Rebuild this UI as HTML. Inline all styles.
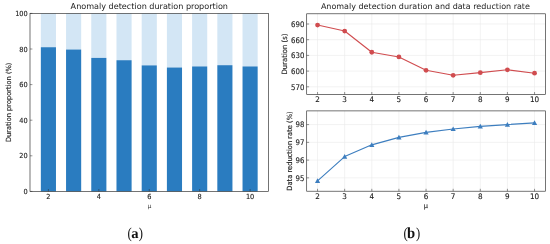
<!DOCTYPE html>
<html lang="en"><head><meta charset="utf-8"><title>Anomaly detection duration figure</title>
<style>
html,body{margin:0;padding:0;background:#fff;}
svg{display:block;}
text{font-family:"DejaVu Sans","Liberation Sans",sans-serif;fill:#1c1c1c;text-rendering:geometricPrecision;}
text.tk{stroke:#1c1c1c;stroke-width:0.12px;}
.cap text{font-family:"Liberation Serif","DejaVu Serif",serif;fill:#111;}
</style>
</head><body>
<svg width="550" height="244" viewBox="0 0 550 244">
<rect width="550" height="244" fill="#fff"/>
<g id="panel-a">
<rect x="40.84" y="13.40" width="15.13" height="33.82" fill="#d3e6f5"/>
<rect x="40.84" y="47.22" width="15.13" height="144.18" fill="#2a7cc0"/>
<rect x="66.05" y="13.40" width="15.13" height="36.13" fill="#d3e6f5"/>
<rect x="66.05" y="49.53" width="15.13" height="141.87" fill="#2a7cc0"/>
<rect x="91.26" y="13.40" width="15.13" height="44.50" fill="#d3e6f5"/>
<rect x="91.26" y="57.90" width="15.13" height="133.50" fill="#2a7cc0"/>
<rect x="116.48" y="13.40" width="15.13" height="46.81" fill="#d3e6f5"/>
<rect x="116.48" y="60.21" width="15.13" height="131.19" fill="#2a7cc0"/>
<rect x="141.69" y="13.40" width="15.13" height="51.98" fill="#d3e6f5"/>
<rect x="141.69" y="65.38" width="15.13" height="126.02" fill="#2a7cc0"/>
<rect x="166.90" y="13.40" width="15.13" height="54.11" fill="#d3e6f5"/>
<rect x="166.90" y="67.51" width="15.13" height="123.89" fill="#2a7cc0"/>
<rect x="192.11" y="13.40" width="15.13" height="53.04" fill="#d3e6f5"/>
<rect x="192.11" y="66.44" width="15.13" height="124.96" fill="#2a7cc0"/>
<rect x="217.32" y="13.40" width="15.13" height="51.80" fill="#d3e6f5"/>
<rect x="217.32" y="65.20" width="15.13" height="126.20" fill="#2a7cc0"/>
<rect x="242.53" y="13.40" width="15.13" height="53.04" fill="#d3e6f5"/>
<rect x="242.53" y="66.44" width="15.13" height="124.96" fill="#2a7cc0"/>
<rect x="30.00" y="13.40" width="238.50" height="178.00" fill="none" stroke="#2a2a2a" stroke-width="0.65"/>
<line x1="30.00" x2="32.40" y1="191.40" y2="191.40" stroke="#2a2a2a" stroke-width="0.5"/>
<text class="tk" transform="translate(27.70,193.95) scale(0.94,1)" font-size="7.0" text-anchor="end">0</text>
<line x1="30.00" x2="32.40" y1="155.80" y2="155.80" stroke="#2a2a2a" stroke-width="0.5"/>
<text class="tk" transform="translate(27.70,158.35) scale(0.94,1)" font-size="7.0" text-anchor="end">20</text>
<line x1="30.00" x2="32.40" y1="120.20" y2="120.20" stroke="#2a2a2a" stroke-width="0.5"/>
<text class="tk" transform="translate(27.70,122.75) scale(0.94,1)" font-size="7.0" text-anchor="end">40</text>
<line x1="30.00" x2="32.40" y1="84.60" y2="84.60" stroke="#2a2a2a" stroke-width="0.5"/>
<text class="tk" transform="translate(27.70,87.15) scale(0.94,1)" font-size="7.0" text-anchor="end">60</text>
<line x1="30.00" x2="32.40" y1="49.00" y2="49.00" stroke="#2a2a2a" stroke-width="0.5"/>
<text class="tk" transform="translate(27.70,51.55) scale(0.94,1)" font-size="7.0" text-anchor="end">80</text>
<line x1="30.00" x2="32.40" y1="13.40" y2="13.40" stroke="#2a2a2a" stroke-width="0.5"/>
<text class="tk" transform="translate(27.70,15.95) scale(0.94,1)" font-size="7.0" text-anchor="end">100</text>
<line x1="48.40" x2="48.40" y1="191.40" y2="189.00" stroke="#2a2a2a" stroke-width="0.5"/>
<text class="tk" transform="translate(48.40,199.45) scale(0.94,1)" font-size="7.0" text-anchor="middle">2</text>
<line x1="98.83" x2="98.83" y1="191.40" y2="189.00" stroke="#2a2a2a" stroke-width="0.5"/>
<text class="tk" transform="translate(98.83,199.45) scale(0.94,1)" font-size="7.0" text-anchor="middle">4</text>
<line x1="149.25" x2="149.25" y1="191.40" y2="189.00" stroke="#2a2a2a" stroke-width="0.5"/>
<text class="tk" transform="translate(149.25,199.45) scale(0.94,1)" font-size="7.0" text-anchor="middle">6</text>
<line x1="199.67" x2="199.67" y1="191.40" y2="189.00" stroke="#2a2a2a" stroke-width="0.5"/>
<text class="tk" transform="translate(199.67,199.45) scale(0.94,1)" font-size="7.0" text-anchor="middle">8</text>
<line x1="250.10" x2="250.10" y1="191.40" y2="189.00" stroke="#2a2a2a" stroke-width="0.5"/>
<text class="tk" transform="translate(250.10,199.45) scale(0.94,1)" font-size="7.0" text-anchor="middle">10</text>
<text x="149.4" y="208.3" font-size="6.0" text-anchor="middle" style="fill:#3a3a3a">μ</text>
<text class="tk" transform="translate(10.90,102.30) rotate(-90) scale(0.94,1)" font-size="7.1" text-anchor="middle">Duration proportion (%)</text>
<text x="149.3" y="9.2" font-size="8.08" text-anchor="middle">Anomaly detection duration proportion</text>
</g>
<g id="panel-b-top">
<line x1="317.55" x2="317.55" y1="13.8" y2="94.4" stroke="#eaeaea" stroke-width="0.6"/>
<line x1="344.67" x2="344.67" y1="13.8" y2="94.4" stroke="#eaeaea" stroke-width="0.6"/>
<line x1="371.80" x2="371.80" y1="13.8" y2="94.4" stroke="#eaeaea" stroke-width="0.6"/>
<line x1="398.92" x2="398.92" y1="13.8" y2="94.4" stroke="#eaeaea" stroke-width="0.6"/>
<line x1="426.05" x2="426.05" y1="13.8" y2="94.4" stroke="#eaeaea" stroke-width="0.6"/>
<line x1="453.17" x2="453.17" y1="13.8" y2="94.4" stroke="#eaeaea" stroke-width="0.6"/>
<line x1="480.30" x2="480.30" y1="13.8" y2="94.4" stroke="#eaeaea" stroke-width="0.6"/>
<line x1="507.42" x2="507.42" y1="13.8" y2="94.4" stroke="#eaeaea" stroke-width="0.6"/>
<line x1="534.55" x2="534.55" y1="13.8" y2="94.4" stroke="#eaeaea" stroke-width="0.6"/>
<line x1="306.7" x2="545.4" y1="86.80" y2="86.80" stroke="#eaeaea" stroke-width="0.6"/>
<line x1="306.7" x2="545.4" y1="71.10" y2="71.10" stroke="#eaeaea" stroke-width="0.6"/>
<line x1="306.7" x2="545.4" y1="55.40" y2="55.40" stroke="#eaeaea" stroke-width="0.6"/>
<line x1="306.7" x2="545.4" y1="39.70" y2="39.70" stroke="#eaeaea" stroke-width="0.6"/>
<line x1="306.7" x2="545.4" y1="24.00" y2="24.00" stroke="#eaeaea" stroke-width="0.6"/>
<polyline points="317.55,25.05 344.67,31.06 371.80,52.26 398.92,56.97 426.05,70.31 453.17,75.29 480.30,72.67 507.42,69.79 534.55,73.19" fill="none" stroke="#d04c4f" stroke-width="1.12" stroke-linejoin="round"/>
<circle cx="317.55" cy="25.05" r="2.4" fill="#d04c4f"/>
<circle cx="344.67" cy="31.06" r="2.4" fill="#d04c4f"/>
<circle cx="371.80" cy="52.26" r="2.4" fill="#d04c4f"/>
<circle cx="398.92" cy="56.97" r="2.4" fill="#d04c4f"/>
<circle cx="426.05" cy="70.31" r="2.4" fill="#d04c4f"/>
<circle cx="453.17" cy="75.29" r="2.4" fill="#d04c4f"/>
<circle cx="480.30" cy="72.67" r="2.4" fill="#d04c4f"/>
<circle cx="507.42" cy="69.79" r="2.4" fill="#d04c4f"/>
<circle cx="534.55" cy="73.19" r="2.4" fill="#d04c4f"/>
<rect x="306.7" y="13.8" width="238.70" height="80.60" fill="none" stroke="#2a2a2a" stroke-width="0.65"/>
<line x1="306.7" x2="309.09999999999997" y1="86.80" y2="86.80" stroke="#2a2a2a" stroke-width="0.5"/>
<text class="tk" transform="translate(304.40,89.60) scale(0.91,1)" font-size="7.7" text-anchor="end">570</text>
<line x1="306.7" x2="309.09999999999997" y1="71.10" y2="71.10" stroke="#2a2a2a" stroke-width="0.5"/>
<text class="tk" transform="translate(304.40,73.90) scale(0.91,1)" font-size="7.7" text-anchor="end">600</text>
<line x1="306.7" x2="309.09999999999997" y1="55.40" y2="55.40" stroke="#2a2a2a" stroke-width="0.5"/>
<text class="tk" transform="translate(304.40,58.20) scale(0.91,1)" font-size="7.7" text-anchor="end">630</text>
<line x1="306.7" x2="309.09999999999997" y1="39.70" y2="39.70" stroke="#2a2a2a" stroke-width="0.5"/>
<text class="tk" transform="translate(304.40,42.50) scale(0.91,1)" font-size="7.7" text-anchor="end">660</text>
<line x1="306.7" x2="309.09999999999997" y1="24.00" y2="24.00" stroke="#2a2a2a" stroke-width="0.5"/>
<text class="tk" transform="translate(304.40,26.80) scale(0.91,1)" font-size="7.7" text-anchor="end">690</text>
<line x1="317.55" x2="317.55" y1="94.4" y2="92.0" stroke="#2a2a2a" stroke-width="0.5"/>
<text class="tk" transform="translate(317.55,102.10) scale(0.94,1)" font-size="7.7" text-anchor="middle">2</text>
<line x1="344.67" x2="344.67" y1="94.4" y2="92.0" stroke="#2a2a2a" stroke-width="0.5"/>
<text class="tk" transform="translate(344.67,102.10) scale(0.94,1)" font-size="7.7" text-anchor="middle">3</text>
<line x1="371.80" x2="371.80" y1="94.4" y2="92.0" stroke="#2a2a2a" stroke-width="0.5"/>
<text class="tk" transform="translate(371.80,102.10) scale(0.94,1)" font-size="7.7" text-anchor="middle">4</text>
<line x1="398.92" x2="398.92" y1="94.4" y2="92.0" stroke="#2a2a2a" stroke-width="0.5"/>
<text class="tk" transform="translate(398.92,102.10) scale(0.94,1)" font-size="7.7" text-anchor="middle">5</text>
<line x1="426.05" x2="426.05" y1="94.4" y2="92.0" stroke="#2a2a2a" stroke-width="0.5"/>
<text class="tk" transform="translate(426.05,102.10) scale(0.94,1)" font-size="7.7" text-anchor="middle">6</text>
<line x1="453.17" x2="453.17" y1="94.4" y2="92.0" stroke="#2a2a2a" stroke-width="0.5"/>
<text class="tk" transform="translate(453.17,102.10) scale(0.94,1)" font-size="7.7" text-anchor="middle">7</text>
<line x1="480.30" x2="480.30" y1="94.4" y2="92.0" stroke="#2a2a2a" stroke-width="0.5"/>
<text class="tk" transform="translate(480.30,102.10) scale(0.94,1)" font-size="7.7" text-anchor="middle">8</text>
<line x1="507.42" x2="507.42" y1="94.4" y2="92.0" stroke="#2a2a2a" stroke-width="0.5"/>
<text class="tk" transform="translate(507.42,102.10) scale(0.94,1)" font-size="7.7" text-anchor="middle">9</text>
<line x1="534.55" x2="534.55" y1="94.4" y2="92.0" stroke="#2a2a2a" stroke-width="0.5"/>
<text class="tk" transform="translate(534.55,102.10) scale(0.94,1)" font-size="7.7" text-anchor="middle">10</text>
<text class="tk" transform="translate(287.00,54.00) rotate(-90) scale(0.94,1)" font-size="7.3" text-anchor="middle">Duration (s)</text>
<text x="425.4" y="9.15" font-size="8.0" text-anchor="middle">Anomaly detection duration and data reduction rate</text>
</g>
<g id="panel-b-bottom">
<line x1="317.55" x2="317.55" y1="110.9" y2="191.2" stroke="#eaeaea" stroke-width="0.6"/>
<line x1="344.67" x2="344.67" y1="110.9" y2="191.2" stroke="#eaeaea" stroke-width="0.6"/>
<line x1="371.80" x2="371.80" y1="110.9" y2="191.2" stroke="#eaeaea" stroke-width="0.6"/>
<line x1="398.92" x2="398.92" y1="110.9" y2="191.2" stroke="#eaeaea" stroke-width="0.6"/>
<line x1="426.05" x2="426.05" y1="110.9" y2="191.2" stroke="#eaeaea" stroke-width="0.6"/>
<line x1="453.17" x2="453.17" y1="110.9" y2="191.2" stroke="#eaeaea" stroke-width="0.6"/>
<line x1="480.30" x2="480.30" y1="110.9" y2="191.2" stroke="#eaeaea" stroke-width="0.6"/>
<line x1="507.42" x2="507.42" y1="110.9" y2="191.2" stroke="#eaeaea" stroke-width="0.6"/>
<line x1="534.55" x2="534.55" y1="110.9" y2="191.2" stroke="#eaeaea" stroke-width="0.6"/>
<line x1="306.7" x2="545.4" y1="177.85" y2="177.85" stroke="#eaeaea" stroke-width="0.6"/>
<line x1="306.7" x2="545.4" y1="160.10" y2="160.10" stroke="#eaeaea" stroke-width="0.6"/>
<line x1="306.7" x2="545.4" y1="142.35" y2="142.35" stroke="#eaeaea" stroke-width="0.6"/>
<line x1="306.7" x2="545.4" y1="124.60" y2="124.60" stroke="#eaeaea" stroke-width="0.6"/>
<polyline points="317.55,180.87 344.67,156.55 371.80,144.84 398.92,137.38 426.05,132.41 453.17,129.04 480.30,126.37 507.42,124.60 534.55,122.83" fill="none" stroke="#3d7ebf" stroke-width="1.12" stroke-linejoin="round"/>
<polygon points="317.55,178.27 314.95,182.95 320.15,182.95" fill="#3d7ebf"/>
<polygon points="344.67,153.95 342.07,158.63 347.27,158.63" fill="#3d7ebf"/>
<polygon points="371.80,142.24 369.20,146.92 374.40,146.92" fill="#3d7ebf"/>
<polygon points="398.92,134.78 396.32,139.46 401.52,139.46" fill="#3d7ebf"/>
<polygon points="426.05,129.81 423.45,134.49 428.65,134.49" fill="#3d7ebf"/>
<polygon points="453.17,126.44 450.57,131.12 455.77,131.12" fill="#3d7ebf"/>
<polygon points="480.30,123.77 477.70,128.45 482.90,128.45" fill="#3d7ebf"/>
<polygon points="507.42,122.00 504.82,126.68 510.02,126.68" fill="#3d7ebf"/>
<polygon points="534.55,120.23 531.95,124.91 537.15,124.91" fill="#3d7ebf"/>
<rect x="306.7" y="110.9" width="238.70" height="80.30" fill="none" stroke="#2a2a2a" stroke-width="0.65"/>
<line x1="306.7" x2="309.09999999999997" y1="177.85" y2="177.85" stroke="#2a2a2a" stroke-width="0.5"/>
<text class="tk" transform="translate(304.40,180.65) scale(0.91,1)" font-size="7.7" text-anchor="end">95</text>
<line x1="306.7" x2="309.09999999999997" y1="160.10" y2="160.10" stroke="#2a2a2a" stroke-width="0.5"/>
<text class="tk" transform="translate(304.40,162.90) scale(0.91,1)" font-size="7.7" text-anchor="end">96</text>
<line x1="306.7" x2="309.09999999999997" y1="142.35" y2="142.35" stroke="#2a2a2a" stroke-width="0.5"/>
<text class="tk" transform="translate(304.40,145.15) scale(0.91,1)" font-size="7.7" text-anchor="end">97</text>
<line x1="306.7" x2="309.09999999999997" y1="124.60" y2="124.60" stroke="#2a2a2a" stroke-width="0.5"/>
<text class="tk" transform="translate(304.40,127.40) scale(0.91,1)" font-size="7.7" text-anchor="end">98</text>
<line x1="317.55" x2="317.55" y1="191.2" y2="188.79999999999998" stroke="#2a2a2a" stroke-width="0.5"/>
<text class="tk" transform="translate(317.55,198.90) scale(0.94,1)" font-size="7.7" text-anchor="middle">2</text>
<line x1="344.67" x2="344.67" y1="191.2" y2="188.79999999999998" stroke="#2a2a2a" stroke-width="0.5"/>
<text class="tk" transform="translate(344.67,198.90) scale(0.94,1)" font-size="7.7" text-anchor="middle">3</text>
<line x1="371.80" x2="371.80" y1="191.2" y2="188.79999999999998" stroke="#2a2a2a" stroke-width="0.5"/>
<text class="tk" transform="translate(371.80,198.90) scale(0.94,1)" font-size="7.7" text-anchor="middle">4</text>
<line x1="398.92" x2="398.92" y1="191.2" y2="188.79999999999998" stroke="#2a2a2a" stroke-width="0.5"/>
<text class="tk" transform="translate(398.92,198.90) scale(0.94,1)" font-size="7.7" text-anchor="middle">5</text>
<line x1="426.05" x2="426.05" y1="191.2" y2="188.79999999999998" stroke="#2a2a2a" stroke-width="0.5"/>
<text class="tk" transform="translate(426.05,198.90) scale(0.94,1)" font-size="7.7" text-anchor="middle">6</text>
<line x1="453.17" x2="453.17" y1="191.2" y2="188.79999999999998" stroke="#2a2a2a" stroke-width="0.5"/>
<text class="tk" transform="translate(453.17,198.90) scale(0.94,1)" font-size="7.7" text-anchor="middle">7</text>
<line x1="480.30" x2="480.30" y1="191.2" y2="188.79999999999998" stroke="#2a2a2a" stroke-width="0.5"/>
<text class="tk" transform="translate(480.30,198.90) scale(0.94,1)" font-size="7.7" text-anchor="middle">8</text>
<line x1="507.42" x2="507.42" y1="191.2" y2="188.79999999999998" stroke="#2a2a2a" stroke-width="0.5"/>
<text class="tk" transform="translate(507.42,198.90) scale(0.94,1)" font-size="7.7" text-anchor="middle">9</text>
<line x1="534.55" x2="534.55" y1="191.2" y2="188.79999999999998" stroke="#2a2a2a" stroke-width="0.5"/>
<text class="tk" transform="translate(534.55,198.90) scale(0.94,1)" font-size="7.7" text-anchor="middle">10</text>
<text class="tk" x="425.8" y="208.3" font-size="6.6" text-anchor="middle">μ</text>
<text class="tk" transform="translate(292.30,151.00) rotate(-90) scale(0.94,1)" font-size="7.15" text-anchor="middle">Data reduction rate (%)</text>
</g>
<g class="cap">
<text transform="translate(127.60,238.0) scale(0.84,1)" font-size="15.1" text-anchor="start">(</text>
<text transform="translate(131.20,238.2) scale(1,1)" font-size="14.6" font-weight="bold" text-anchor="start">a</text>
<text transform="translate(138.70,238.0) scale(0.84,1)" font-size="15.1" text-anchor="start">)</text>
</g>
<g class="cap">
<text transform="translate(403.60,238.0) scale(0.84,1)" font-size="15.1" text-anchor="start">(</text>
<text transform="translate(407.00,238.2) scale(1,1.07)" font-size="14.6" font-weight="bold" text-anchor="start">b</text>
<text transform="translate(415.90,238.0) scale(0.84,1)" font-size="15.1" text-anchor="start">)</text>
</g>
</svg>
</body></html>
